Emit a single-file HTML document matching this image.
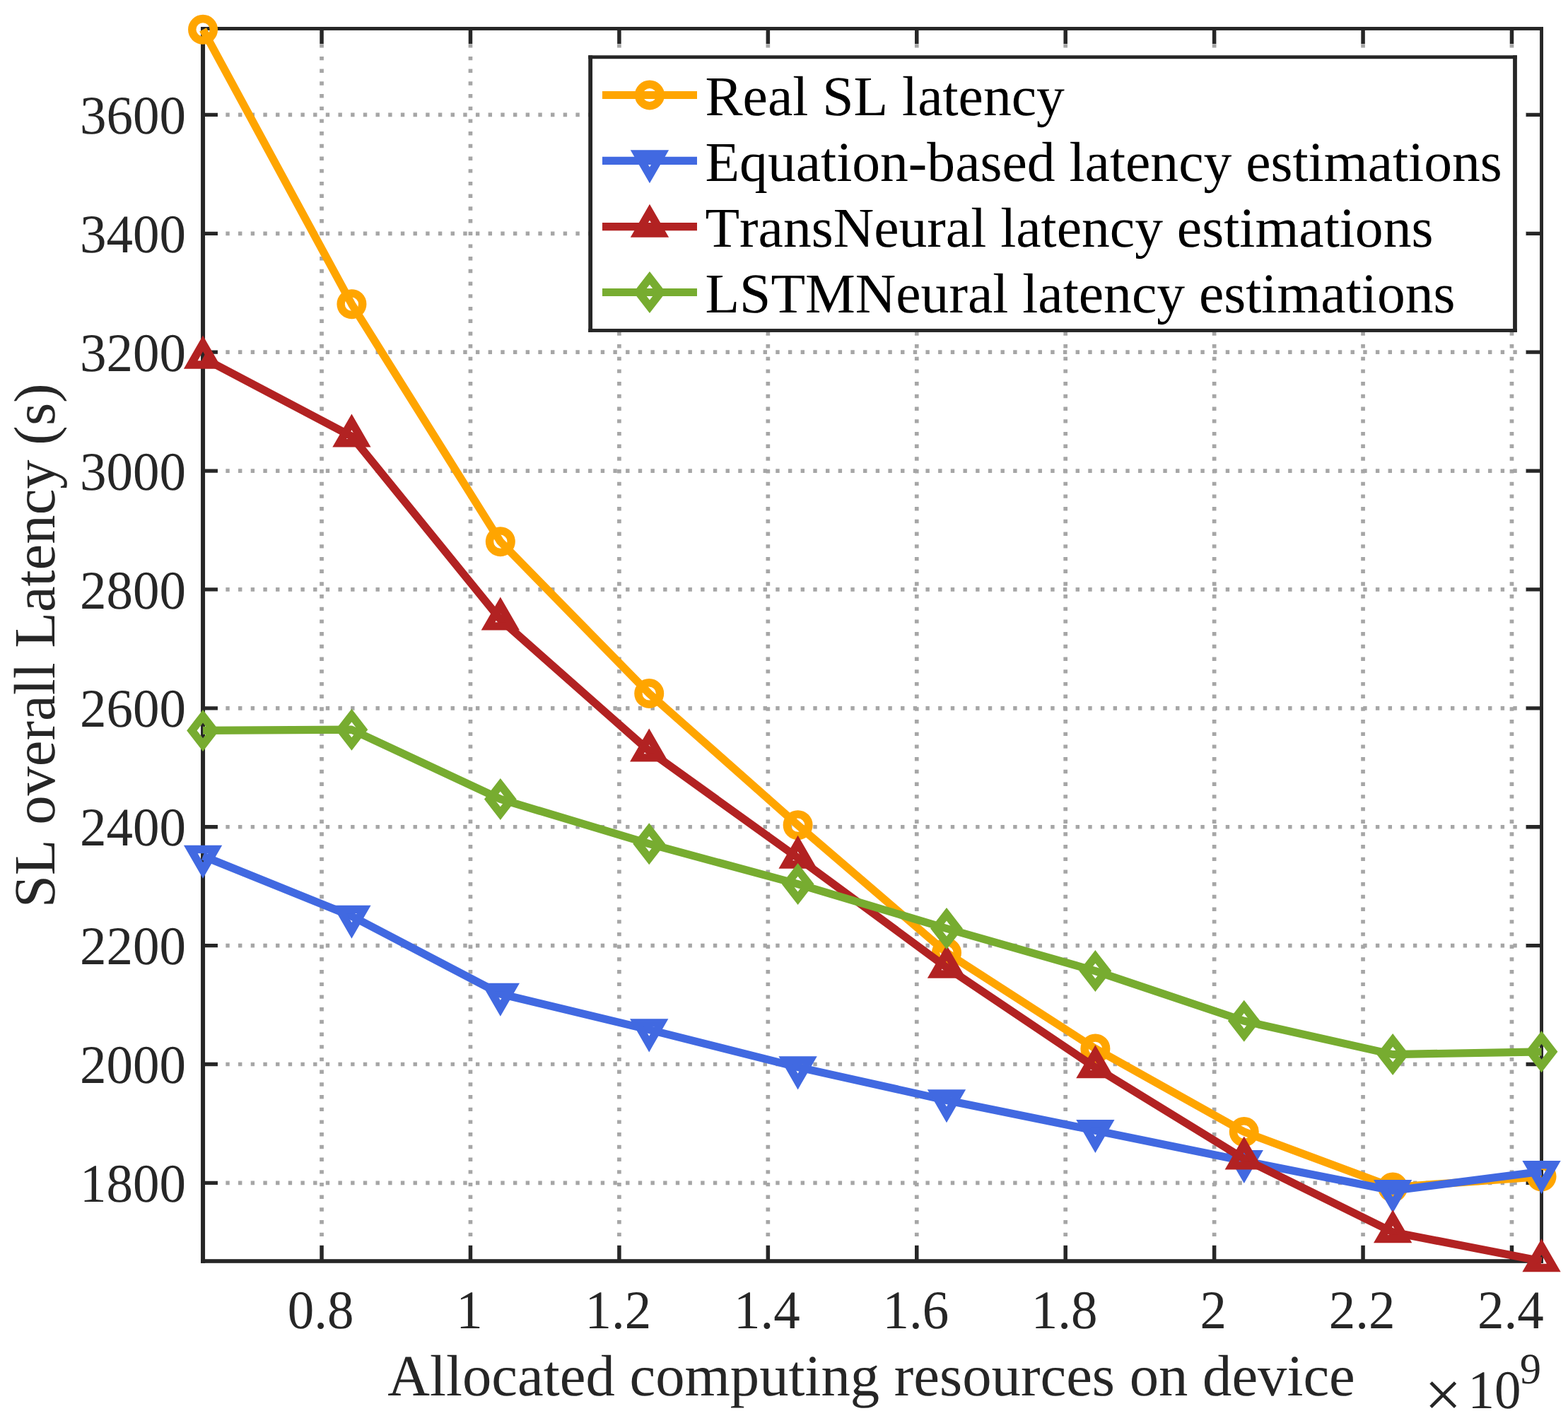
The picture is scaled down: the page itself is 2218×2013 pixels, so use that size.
<!DOCTYPE html>
<html lang="en">
<head>
<meta charset="utf-8">
<title>SL overall Latency vs allocated computing resources</title>
<style>
html,body{margin:0;padding:0;background:#fff}
body{width:2218px;height:2013px;overflow:hidden}
svg{display:block}
text{font-kerning:none;font-variant-ligatures:none;text-rendering:geometricPrecision}
</style>
</head>
<body>
<svg width="2218" height="2013" viewBox="0 0 2218 2013">
<rect width="2218" height="2013" fill="#fff"/>
<defs><clipPath id="cv"><rect x="0" y="61.9" width="2218" height="1700"/></clipPath><clipPath id="ch"><rect x="307.95" y="0" width="1850.85" height="2013"/></clipPath></defs>
<g stroke="#a6a6a6" fill="none" stroke-width="5.7" clip-path="url(#cv)" stroke-dasharray="5.4 12.3">
<path d="M455.05 1784.5V40.5"/>
<path d="M665.48 1784.5V40.5"/>
<path d="M875.91 1784.5V40.5"/>
<path d="M1086.34 1784.5V40.5"/>
<path d="M1296.77 1784.5V40.5"/>
<path d="M1507.2 1784.5V40.5"/>
<path d="M1717.63 1784.5V40.5"/>
<path d="M1928.06 1784.5V40.5"/>
<path d="M2138.49 1784.5V40.5"/>
</g>
<g stroke="#a6a6a6" fill="none" stroke-width="5.7" clip-path="url(#ch)" stroke-dasharray="5.4 12.28">
<path d="M283.99 162.4H2180.55"/>
<path d="M283.99 330.29H2180.55"/>
<path d="M283.99 498.18H2180.55"/>
<path d="M283.99 666.07H2180.55"/>
<path d="M283.99 833.96H2180.55"/>
<path d="M283.99 1001.85H2180.55"/>
<path d="M283.99 1169.74H2180.55"/>
<path d="M283.99 1337.63H2180.55"/>
<path d="M283.99 1505.52H2180.55"/>
<path d="M283.99 1673.41H2180.55"/>
</g>
<g stroke="#262626" fill="none">
<path d="M455.05 1784.0V1761.9M455.05 40.5V61.9" stroke-width="5.5"/>
<path d="M665.48 1784.0V1761.9M665.48 40.5V61.9" stroke-width="5.5"/>
<path d="M875.91 1784.0V1761.9M875.91 40.5V61.9" stroke-width="5.5"/>
<path d="M1086.34 1784.0V1761.9M1086.34 40.5V61.9" stroke-width="5.5"/>
<path d="M1296.77 1784.0V1761.9M1296.77 40.5V61.9" stroke-width="5.5"/>
<path d="M1507.2 1784.0V1761.9M1507.2 40.5V61.9" stroke-width="5.5"/>
<path d="M1717.63 1784.0V1761.9M1717.63 40.5V61.9" stroke-width="5.5"/>
<path d="M1928.06 1784.0V1761.9M1928.06 40.5V61.9" stroke-width="5.5"/>
<path d="M2138.49 1784.0V1761.9M2138.49 40.5V61.9" stroke-width="5.5"/>
<path d="M287.05 162.4H307.95M2180.55 162.4H2158.8" stroke-width="5.3"/>
<path d="M287.05 330.29H307.95M2180.55 330.29H2158.8" stroke-width="5.3"/>
<path d="M287.05 498.18H307.95M2180.55 498.18H2158.8" stroke-width="5.3"/>
<path d="M287.05 666.07H307.95M2180.55 666.07H2158.8" stroke-width="5.3"/>
<path d="M287.05 833.96H307.95M2180.55 833.96H2158.8" stroke-width="5.3"/>
<path d="M287.05 1001.85H307.95M2180.55 1001.85H2158.8" stroke-width="5.3"/>
<path d="M287.05 1169.74H307.95M2180.55 1169.74H2158.8" stroke-width="5.3"/>
<path d="M287.05 1337.63H307.95M2180.55 1337.63H2158.8" stroke-width="5.3"/>
<path d="M287.05 1505.52H307.95M2180.55 1505.52H2158.8" stroke-width="5.3"/>
<path d="M287.05 1673.41H307.95M2180.55 1673.41H2158.8" stroke-width="5.3"/>
<rect x="284.05" y="38.0" width="1898.95" height="4.95" fill="#262626" stroke="none"/>
<rect x="284.05" y="1781.2" width="1898.95" height="5.6" fill="#262626" stroke="none"/>
<rect x="284.05" y="38.0" width="6" height="1748.8" fill="#262626" stroke="none"/>
<rect x="2178.1" y="38.0" width="4.9" height="1748.8" fill="#262626" stroke="none"/>
</g>
<g font-family="'Liberation Serif', serif" font-size="75" fill="#262626">
<text transform="translate(453.55 1878.6) scale(1 1.025)" text-anchor="middle">0.8</text>
<text transform="translate(663.98 1878.6) scale(1 1.025)" text-anchor="middle">1</text>
<text transform="translate(874.41 1878.6) scale(1 1.025)" text-anchor="middle">1.2</text>
<text transform="translate(1084.84 1878.6) scale(1 1.025)" text-anchor="middle">1.4</text>
<text transform="translate(1295.27 1878.6) scale(1 1.025)" text-anchor="middle">1.6</text>
<text transform="translate(1505.7 1878.6) scale(1 1.025)" text-anchor="middle">1.8</text>
<text transform="translate(1716.13 1878.6) scale(1 1.025)" text-anchor="middle">2</text>
<text transform="translate(1926.56 1878.6) scale(1 1.025)" text-anchor="middle">2.2</text>
<text transform="translate(2136.99 1878.6) scale(1 1.025)" text-anchor="middle">2.4</text>
<text transform="translate(262.9 189) scale(1 1.025)" text-anchor="end">3600</text>
<text transform="translate(262.9 356.89) scale(1 1.025)" text-anchor="end">3400</text>
<text transform="translate(262.9 524.78) scale(1 1.025)" text-anchor="end">3200</text>
<text transform="translate(262.9 692.67) scale(1 1.025)" text-anchor="end">3000</text>
<text transform="translate(262.9 860.56) scale(1 1.025)" text-anchor="end">2800</text>
<text transform="translate(262.9 1028.45) scale(1 1.025)" text-anchor="end">2600</text>
<text transform="translate(262.9 1196.34) scale(1 1.025)" text-anchor="end">2400</text>
<text transform="translate(262.9 1364.23) scale(1 1.025)" text-anchor="end">2200</text>
<text transform="translate(262.9 1532.12) scale(1 1.025)" text-anchor="end">2000</text>
<text transform="translate(262.9 1700.01) scale(1 1.025)" text-anchor="end">1800</text>
<text x="2015.1" y="2003.7" font-size="93">×</text>
<text transform="translate(2076.5 1991.9) scale(1 1.025)">10</text>
<text transform="translate(2150 1956.6) scale(1 1.025)" font-size="60">9</text>
</g>
<g font-family="'Liberation Serif', serif" font-size="82.7" fill="#262626">
<text x="1232.6" y="1974" text-anchor="middle">Allocated computing resources on device</text>
<text transform="translate(77 913.2) rotate(-90)" text-anchor="middle">SL overall Latency (s)</text>
</g>
<g>
<polyline points="287.05,41.8 497.44,430.2 707.83,766.2 918.22,981 1128.61,1167.2 1338.99,1347.8 1549.38,1483.4 1759.77,1601.1 1970.16,1679.6 2180.55,1664.3" fill="none" stroke="#ffa500" stroke-width="11.2" stroke-linejoin="round"/>
<circle cx="287.05" cy="41.8" r="15.3" fill="none" stroke="#ffa500" stroke-width="11.4"/>
<circle cx="497.44" cy="430.2" r="15.3" fill="none" stroke="#ffa500" stroke-width="11.4"/>
<circle cx="707.83" cy="766.2" r="15.3" fill="none" stroke="#ffa500" stroke-width="11.4"/>
<circle cx="918.22" cy="981" r="15.3" fill="none" stroke="#ffa500" stroke-width="11.4"/>
<circle cx="1128.61" cy="1167.2" r="15.3" fill="none" stroke="#ffa500" stroke-width="11.4"/>
<circle cx="1338.99" cy="1347.8" r="15.3" fill="none" stroke="#ffa500" stroke-width="11.4"/>
<circle cx="1549.38" cy="1483.4" r="15.3" fill="none" stroke="#ffa500" stroke-width="11.4"/>
<circle cx="1759.77" cy="1601.1" r="15.3" fill="none" stroke="#ffa500" stroke-width="11.4"/>
<circle cx="1970.16" cy="1679.6" r="15.3" fill="none" stroke="#ffa500" stroke-width="11.4"/>
<circle cx="2180.55" cy="1664.3" r="15.3" fill="none" stroke="#ffa500" stroke-width="11.4"/>
</g>
<g>
<polyline points="287.05,1211 497.44,1296 707.83,1406 918.22,1456.6 1128.61,1509.6 1338.99,1556.5 1549.38,1599.3 1759.77,1642.3 1970.16,1684.3 2180.55,1657.3" fill="none" stroke="#4169e1" stroke-width="11.2" stroke-linejoin="round"/>
<polygon points="287.05,1231.38 304.33,1201.46 269.77,1201.46" fill="none" stroke="#4169e1" stroke-width="11.4" stroke-linejoin="miter" stroke-miterlimit="10"/>
<polygon points="497.44,1316.38 514.72,1286.46 480.16,1286.46" fill="none" stroke="#4169e1" stroke-width="11.4" stroke-linejoin="miter" stroke-miterlimit="10"/>
<polygon points="707.83,1426.38 725.1,1396.46 690.55,1396.46" fill="none" stroke="#4169e1" stroke-width="11.4" stroke-linejoin="miter" stroke-miterlimit="10"/>
<polygon points="918.22,1476.98 935.49,1447.06 900.94,1447.06" fill="none" stroke="#4169e1" stroke-width="11.4" stroke-linejoin="miter" stroke-miterlimit="10"/>
<polygon points="1128.61,1529.98 1145.88,1500.06 1111.33,1500.06" fill="none" stroke="#4169e1" stroke-width="11.4" stroke-linejoin="miter" stroke-miterlimit="10"/>
<polygon points="1338.99,1576.88 1356.27,1546.96 1321.72,1546.96" fill="none" stroke="#4169e1" stroke-width="11.4" stroke-linejoin="miter" stroke-miterlimit="10"/>
<polygon points="1549.38,1619.68 1566.66,1589.76 1532.11,1589.76" fill="none" stroke="#4169e1" stroke-width="11.4" stroke-linejoin="miter" stroke-miterlimit="10"/>
<polygon points="1759.77,1662.68 1777.05,1632.76 1742.5,1632.76" fill="none" stroke="#4169e1" stroke-width="11.4" stroke-linejoin="miter" stroke-miterlimit="10"/>
<polygon points="1970.16,1704.68 1987.44,1674.76 1952.88,1674.76" fill="none" stroke="#4169e1" stroke-width="11.4" stroke-linejoin="miter" stroke-miterlimit="10"/>
<polygon points="2180.55,1677.68 2197.83,1647.76 2163.27,1647.76" fill="none" stroke="#4169e1" stroke-width="11.4" stroke-linejoin="miter" stroke-miterlimit="10"/>
</g>
<g>
<polyline points="287.05,506.4 497.44,617.2 707.83,876.3 918.22,1062.3 1128.61,1213.5 1338.99,1368.4 1549.38,1510 1759.77,1639.3 1970.16,1743 2180.55,1784" fill="none" stroke="#b22222" stroke-width="11.2" stroke-linejoin="round"/>
<polygon points="287.05,486.02 304.33,515.94 269.77,515.94" fill="none" stroke="#b22222" stroke-width="11.4" stroke-linejoin="miter" stroke-miterlimit="10"/>
<polygon points="497.44,596.82 514.72,626.75 480.16,626.75" fill="none" stroke="#b22222" stroke-width="11.4" stroke-linejoin="miter" stroke-miterlimit="10"/>
<polygon points="707.83,855.92 725.1,885.85 690.55,885.85" fill="none" stroke="#b22222" stroke-width="11.4" stroke-linejoin="miter" stroke-miterlimit="10"/>
<polygon points="918.22,1041.92 935.49,1071.84 900.94,1071.84" fill="none" stroke="#b22222" stroke-width="11.4" stroke-linejoin="miter" stroke-miterlimit="10"/>
<polygon points="1128.61,1193.12 1145.88,1223.04 1111.33,1223.04" fill="none" stroke="#b22222" stroke-width="11.4" stroke-linejoin="miter" stroke-miterlimit="10"/>
<polygon points="1338.99,1348.02 1356.27,1377.94 1321.72,1377.94" fill="none" stroke="#b22222" stroke-width="11.4" stroke-linejoin="miter" stroke-miterlimit="10"/>
<polygon points="1549.38,1489.62 1566.66,1519.54 1532.11,1519.54" fill="none" stroke="#b22222" stroke-width="11.4" stroke-linejoin="miter" stroke-miterlimit="10"/>
<polygon points="1759.77,1618.92 1777.05,1648.84 1742.5,1648.84" fill="none" stroke="#b22222" stroke-width="11.4" stroke-linejoin="miter" stroke-miterlimit="10"/>
<polygon points="1970.16,1722.62 1987.44,1752.54 1952.88,1752.54" fill="none" stroke="#b22222" stroke-width="11.4" stroke-linejoin="miter" stroke-miterlimit="10"/>
<polygon points="2180.55,1763.62 2197.83,1793.54 2163.27,1793.54" fill="none" stroke="#b22222" stroke-width="11.4" stroke-linejoin="miter" stroke-miterlimit="10"/>
</g>
<g>
<polyline points="287.05,1033.4 497.44,1032.2 707.83,1130.4 918.22,1193.7 1128.61,1250.6 1338.99,1313.5 1549.38,1373.6 1759.77,1444.3 1970.16,1491.6 2180.55,1487.8" fill="none" stroke="#77ac30" stroke-width="11.2" stroke-linejoin="round"/>
<polygon points="287.05,1013.2 302.7,1033.4 287.05,1053.6 271.4,1033.4" fill="none" stroke="#77ac30" stroke-width="11.4" stroke-linejoin="miter" stroke-miterlimit="10"/>
<polygon points="497.44,1012 513.09,1032.2 497.44,1052.4 481.79,1032.2" fill="none" stroke="#77ac30" stroke-width="11.4" stroke-linejoin="miter" stroke-miterlimit="10"/>
<polygon points="707.83,1110.2 723.48,1130.4 707.83,1150.6 692.18,1130.4" fill="none" stroke="#77ac30" stroke-width="11.4" stroke-linejoin="miter" stroke-miterlimit="10"/>
<polygon points="918.22,1173.5 933.87,1193.7 918.22,1213.9 902.57,1193.7" fill="none" stroke="#77ac30" stroke-width="11.4" stroke-linejoin="miter" stroke-miterlimit="10"/>
<polygon points="1128.61,1230.4 1144.26,1250.6 1128.61,1270.8 1112.96,1250.6" fill="none" stroke="#77ac30" stroke-width="11.4" stroke-linejoin="miter" stroke-miterlimit="10"/>
<polygon points="1338.99,1293.3 1354.64,1313.5 1338.99,1333.7 1323.34,1313.5" fill="none" stroke="#77ac30" stroke-width="11.4" stroke-linejoin="miter" stroke-miterlimit="10"/>
<polygon points="1549.38,1353.4 1565.03,1373.6 1549.38,1393.8 1533.73,1373.6" fill="none" stroke="#77ac30" stroke-width="11.4" stroke-linejoin="miter" stroke-miterlimit="10"/>
<polygon points="1759.77,1424.1 1775.42,1444.3 1759.77,1464.5 1744.12,1444.3" fill="none" stroke="#77ac30" stroke-width="11.4" stroke-linejoin="miter" stroke-miterlimit="10"/>
<polygon points="1970.16,1471.4 1985.81,1491.6 1970.16,1511.8 1954.51,1491.6" fill="none" stroke="#77ac30" stroke-width="11.4" stroke-linejoin="miter" stroke-miterlimit="10"/>
<polygon points="2180.55,1467.6 2196.2,1487.8 2180.55,1508 2164.9,1487.8" fill="none" stroke="#77ac30" stroke-width="11.4" stroke-linejoin="miter" stroke-miterlimit="10"/>
</g>
<rect x="835.15" y="80.7" width="1307.85" height="386.8" fill="#fff" stroke="none"/>
<rect x="832.25" y="78.3" width="1313.65" height="4.9" fill="#262626"/>
<rect x="832.25" y="465.05" width="1313.65" height="4.9" fill="#262626"/>
<rect x="832.25" y="78.3" width="5.8" height="391.65" fill="#262626"/>
<rect x="2140.1" y="78.3" width="5.8" height="391.65" fill="#262626"/>
<g font-family="'Liberation Serif', serif" font-size="79.6" fill="#000">
<path d="M852 134.5H986" stroke="#ffa500" stroke-width="11.2" fill="none"/>
<circle cx="918.95" cy="134.5" r="15.3" fill="none" stroke="#ffa500" stroke-width="11.4"/>
<text x="997.5" y="163.1">Real SL latency</text>
<path d="M852 227.45H986" stroke="#4169e1" stroke-width="11.2" fill="none"/>
<polygon points="918.95,247.83 936.23,217.91 901.67,217.91" fill="none" stroke="#4169e1" stroke-width="11.4" stroke-linejoin="miter" stroke-miterlimit="10"/>
<text x="997.5" y="256.05">Equation-based latency estimations</text>
<path d="M852 320.55H986" stroke="#b22222" stroke-width="11.2" fill="none"/>
<polygon points="918.95,300.17 936.23,330.1 901.67,330.1" fill="none" stroke="#b22222" stroke-width="11.4" stroke-linejoin="miter" stroke-miterlimit="10"/>
<text x="997.5" y="349.15">TransNeural latency estimations</text>
<path d="M852 413.5H986" stroke="#77ac30" stroke-width="11.2" fill="none"/>
<polygon points="918.95,393.3 934.6,413.5 918.95,433.7 903.3,413.5" fill="none" stroke="#77ac30" stroke-width="11.4" stroke-linejoin="miter" stroke-miterlimit="10"/>
<text x="997.5" y="442.1">LSTMNeural latency estimations</text>
</g>
</svg>
</body>
</html>
